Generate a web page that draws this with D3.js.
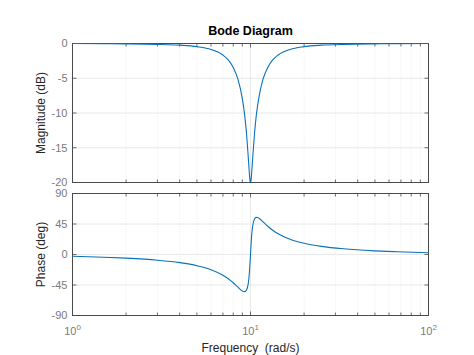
<!DOCTYPE html>
<html><head><meta charset="utf-8">
<script src="https://cdn.jsdelivr.net/npm/d3@7"></script>
<style>
html,body{margin:0;padding:0;background:#fff;}
svg{display:block;font-family:"Liberation Sans",Arial,Helvetica,sans-serif;}
text{white-space:pre;}
</style></head>
<body><svg id="c" width="474" height="355"></svg>
<script>
// Data (notch-filter Bode plot)
const freq = [1,1.5,2,3,4,5,6,7,7.5,8,8.5,9,9.15,9.3,9.5,9.7,9.8,9.9,9.95,10,10.05,10.1,10.2,10.31,10.53,10.75,10.93,11.11,11.76,12.5,13.33,14.29,16.67,20,25,33.33,50,66.67,100];
const magnitude = [-0.01,-0.03,-0.05,-0.12,-0.24,-0.45,-0.85,-1.66,-2.36,-3.44,-5.14,-7.96,-9.16,-10.60,-13.01,-16.11,-17.85,-19.36,-19.83,-20.00,-19.83,-19.36,-17.85,-16.11,-13.01,-10.60,-9.16,-7.96,-5.14,-3.44,-2.36,-1.66,-0.85,-0.45,-0.24,-0.12,-0.05,-0.03,-0.01];
const phase = [-2.6,-4.0,-5.4,-8.4,-12.0,-16.5,-22.4,-30.5,-35.7,-41.7,-48.2,-53.8,-54.7,-54.8,-52.4,-43.7,-34.3,-19.6,-10.2,0,10.2,19.6,34.3,43.7,52.4,54.8,54.7,53.8,48.2,41.7,35.7,30.5,22.4,16.5,12.0,8.4,5.4,4.0,2.6];
const magTicks = [0,-5,-10,-15,-20];
const phaseTicks = [90,45,0,-45,-90];
const freqTicks = [1,10,100];
const freqExp = ["0","1","2"];
const titleText = "Bode Diagram";
const magLabel = "Magnitude (dB)";
const phaseLabel = "Phase (deg)";
const freqLabel = "Frequency  (rad/s)";

const svg = d3.select("#c");
const L = 72.5, R = 428.5;
const x = d3.scaleLog().domain([1,100]).range([L,R]);
const panels = [
  {top:43.5, bottom:182.5, dom:[-20,0], ticks:magTicks, vals:magnitude, label:magLabel, id:"m"},
  {top:193.5, bottom:315.5, dom:[-90,90], ticks:phaseTicks, vals:phase, label:phaseLabel, id:"p"}
];
const minor = [];
[1,10].forEach(d=>{for(let k=2;k<=9;k++) minor.push(d*k);});
const axisCol = "#4a4a4a", tickTextCol = "#7a7a7a", lineCol = "#0a72b8";

panels.forEach(p=>{
  const y = d3.scaleLinear().domain(p.dom).range([p.bottom,p.top]);
  const g = svg.append("g");
  g.selectAll(".mg").data(minor).join("line")
    .attr("x1",d=>x(d)).attr("x2",d=>x(d)).attr("y1",p.top).attr("y2",p.bottom)
    .attr("stroke","#e8e8e8").attr("stroke-width",0.8).attr("stroke-dasharray","1,1.5");
  g.selectAll(".xg").data(freqTicks).join("line")
    .attr("x1",d=>x(d)).attr("x2",d=>x(d)).attr("y1",p.top).attr("y2",p.bottom)
    .attr("stroke","#e2e2e2").attr("stroke-width",0.8);
  g.selectAll(".yg").data(p.ticks).join("line")
    .attr("x1",L).attr("x2",R).attr("y1",d=>y(d)).attr("y2",d=>y(d))
    .attr("stroke","#e2e2e2").attr("stroke-width",0.8);
  g.append("rect").attr("x",L).attr("y",p.top).attr("width",R-L).attr("height",p.bottom-p.top)
    .attr("fill","none").attr("stroke",axisCol).attr("stroke-width",1);
  const tk = g.append("g").attr("stroke",axisCol).attr("stroke-width",0.8);
  freqTicks.concat(minor).forEach(d=>{
    const len = freqTicks.includes(d)?4:3;
    tk.append("line").attr("x1",x(d)).attr("x2",x(d)).attr("y1",p.bottom).attr("y2",p.bottom-len);
    tk.append("line").attr("x1",x(d)).attr("x2",x(d)).attr("y1",p.top).attr("y2",p.top+len);
  });
  p.ticks.forEach(d=>{
    tk.append("line").attr("x1",L).attr("x2",L+4).attr("y1",y(d)).attr("y2",y(d));
    tk.append("line").attr("x1",R).attr("x2",R-4).attr("y1",y(d)).attr("y2",y(d));
  });
  g.selectAll(".yl").data(p.ticks).join("text")
    .attr("x",L-5).attr("y",d=>y(d)).attr("dy","0.36em").attr("text-anchor","end")
    .attr("font-size",11).attr("fill",tickTextCol).text(d=>d);
  svg.append("text").attr("transform",`translate(45,${(p.top+p.bottom)/2}) rotate(-90)`)
    .attr("text-anchor","middle").attr("font-size",12).attr("fill","#262626").text(p.label);
  svg.append("clipPath").attr("id","clip"+p.id).append("rect")
    .attr("x",L).attr("y",p.top-1).attr("width",R-L).attr("height",p.bottom-p.top+2);
  const line = d3.line().x((d,i)=>x(freq[i])).y(d=>y(d)).curve(d3.curveMonotoneX);
  svg.append("path").datum(p.vals).attr("d",line).attr("clip-path",`url(#clip${p.id})`)
    .attr("fill","none").attr("stroke",lineCol).attr("stroke-width",1.1);
});

freqTicks.forEach((d,i)=>{
  const t = svg.append("text").attr("x",x(d)).attr("y",335).attr("text-anchor","middle")
    .attr("font-size",11).attr("fill",tickTextCol);
  t.append("tspan").text("10");
  t.append("tspan").attr("font-size",8).attr("dy",-5).text(freqExp[i]);
});
svg.append("text").attr("x",(L+R)/2).attr("y",352).attr("text-anchor","middle")
  .attr("font-size",12).attr("fill","#262626").text(freqLabel);
svg.append("text").attr("x",(L+R)/2).attr("y",35).attr("text-anchor","middle")
  .attr("font-size",12.5).attr("font-weight","bold").attr("fill","#000").text(titleText);
</script></body></html>
